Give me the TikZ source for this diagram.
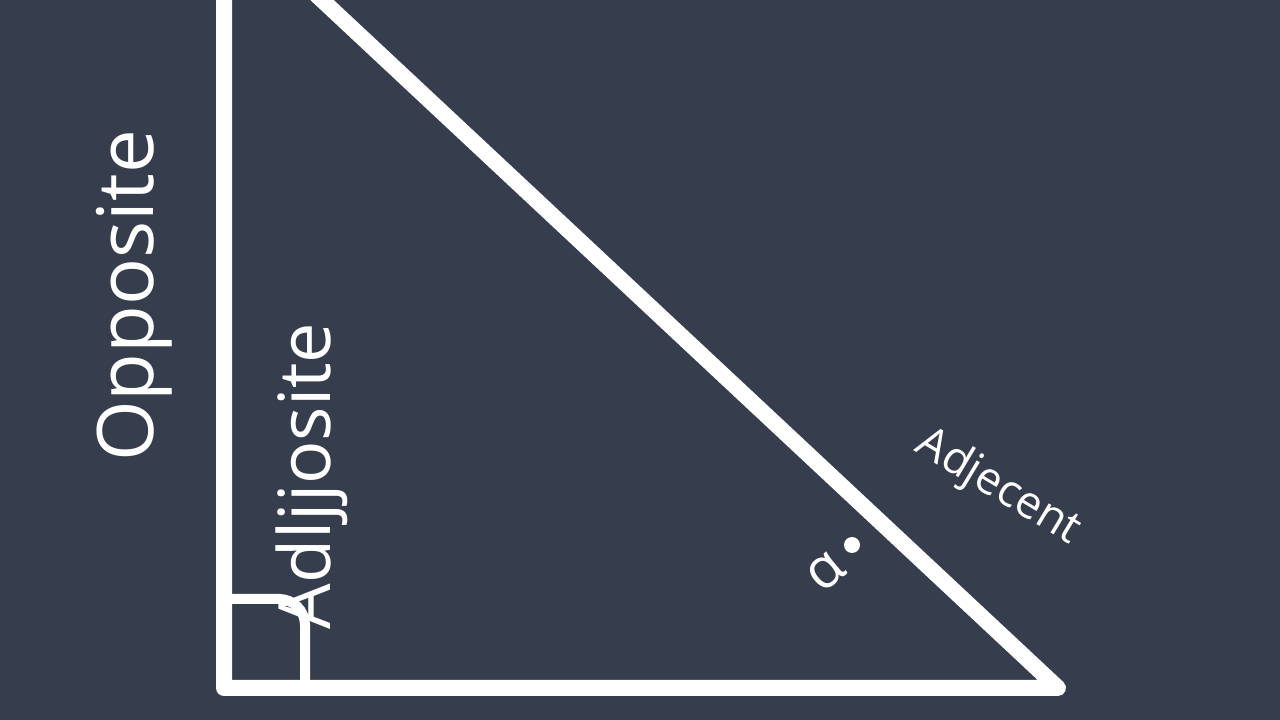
\documentclass[tikz,border=0pt]{standalone}
\usepackage{fontspec}
\setmainfont{Open Sans}
\definecolor{bg}{HTML}{363E4D}
\tikzset{
  side/.style={draw=white, line width=16pt, line join=round, line cap=butt},
  marker/.style={draw=white, line width=10pt, rounded corners=26pt},
  lbl/.style={text=white, inner sep=0pt, anchor=base},
}
\begin{document}
\begin{tikzpicture}[x=1pt,y=1pt]
\useasboundingbox (0,0) rectangle (1280,720);
\fill[bg] (0,0) rectangle (1280,720);
% vertices (y = 720 - pixel row)
\coordinate (top) at (224,740);
\coordinate (C) at (224,32);
\coordinate (B) at (1058,32);
\coordinate (H) at (300.6,740);
\draw[side] (top) -- (C) -- (B) -- (H);
% right angle marker
\coordinate (m1) at (228,121);
\coordinate (m2) at (305,28);
\draw[marker] (m1) -| (m2);
% labels
\node[lbl, rotate=90, font=\fontsize{78}{94}\selectfont] (opp) at (153,424) {Opposite};
\node[lbl, rotate=90, font=\fontsize{72}{86}\selectfont] (adj1) at (330,244) {Adljjosite};
\node[lbl, rotate=-31, font=\fontsize{45}{54}\selectfont] (adj2) at (992,222) {Adjecent};
\node[text=white, inner sep=0pt, rotate=40, font=\fontsize{56}{66}\selectfont] (alpha) at (826,148) {α};
\fill[white] (852,175) circle (8) coordinate (dot);
\end{tikzpicture}
\end{document}
